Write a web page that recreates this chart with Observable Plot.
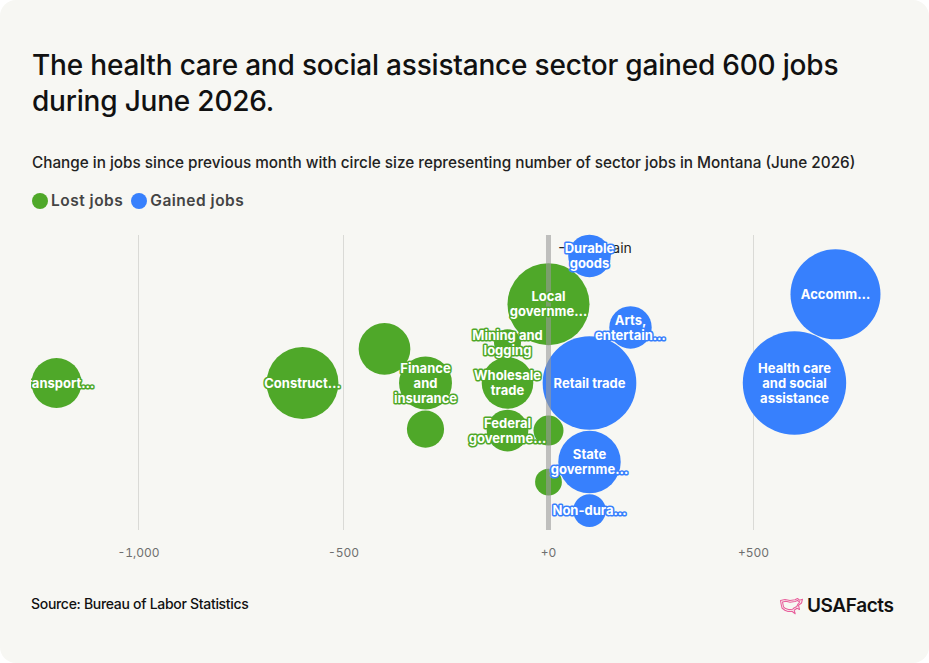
<!DOCTYPE html>
<html>
<head>
<meta charset="utf-8">
<script src="https://cdn.jsdelivr.net/npm/d3@7"></script>
<script src="https://cdn.jsdelivr.net/npm/@observablehq/plot@0.6"></script>
<style>
  html, body { margin: 0; padding: 0; background: #ffffff; }
  #card { position: relative; width: 929px; height: 663px; background: #f7f7f3; border-radius: 16px; overflow: hidden; font-family: Inter, "Noto Sans", sans-serif; }
  #title { position: absolute; left: 32px; top: 47px; width: 835px; font-size: 28px; line-height: 36px; font-weight: 500; color: #111; letter-spacing: -0.2px; margin: 0; }
  #subtitle { position: absolute; left: 32px; top: 154px; font-size: 15.3px; line-height: 18px; font-weight: 500; color: #222; white-space: nowrap; }
  #legend { position: absolute; left: 32px; top: 192px; display: flex; align-items: center; font-size: 15.5px; line-height: 18px; font-weight: 600; color: #444; letter-spacing: 0.5px; }
  #legend .item { display: flex; align-items: center; margin-right: 8px; }
  #legend .sw { width: 16px; height: 16px; border-radius: 50%; margin-right: 3px; }
  #chart { position: absolute; left: 31px; top: 230px; }
  #source { position: absolute; left: 31px; top: 596px; font-size: 14px; line-height: 16px; font-weight: 500; color: #111; letter-spacing: -0.3px; }
  #logo { position: absolute; left: 779px; top: 594px; display: flex; align-items: center; }
  #logo span { font-size: 19px; font-weight: 600; color: #111; letter-spacing: -0.4px; margin-left: 3px; }
</style>
</head>
<body>
<div id="card">
  <h1 id="title">The health care and social assistance sector gained 600 jobs during June 2026.</h1>
  <div id="subtitle">Change in jobs since previous month with circle size representing number of sector jobs in Montana (June 2026)</div>
  <div id="legend"></div>
  <div id="chart"></div>
  <div id="source">Source: Bureau of Labor Statistics</div>
  <div id="logo">
    <svg width="25" height="18" viewBox="0 0 25 18">
      <path d="M1.5 3.5 L6 2.5 L11 3.5 L16 2.8 L18.5 1.5 L20.5 3.2 L23.5 2.2 L22.5 6 L19.5 8.2 L20.5 12.5 L18 11.2 L15.2 13.2 L16.2 16.8 L13 14.2 L9 14.5 L5.8 13.2 L3 11 L2.2 7.5 Z" fill="none" stroke="#e8609c" stroke-width="1.1" stroke-linejoin="round"/>
      <path d="M3.5 5 L7 4.3 L11 5.2 L16 4.5 L18.5 3.5 L20.8 5 L19 7 L17.8 9.5 L15 11 L13.5 12.3 L9.5 12.6 L6.5 11.6 L4.5 9.8 Z" fill="none" stroke="#e8609c" stroke-width="1.1" stroke-linejoin="round"/>
    </svg>
    <span>USAFacts</span>
  </div>
</div>
<script>
// ---- Data ----
const sectors = [
  "Transportation and utilities",
  "Construction",
  "Professional, scientific, and technical services",
  "Finance and insurance",
  "Other services",
  "Mining and logging",
  "Wholesale trade",
  "Federal government",
  "Local government",
  "Information",
  "Educational services",
  "Durable goods",
  "Retail trade",
  "State government",
  "Non-durable goods",
  "Arts, entertainment, and recreation",
  "Health care and social assistance",
  "Accommodation and food services"
];
const labels = [
  "Transport…",
  "Construct…",
  "",
  "Finance\nand\ninsurance",
  "",
  "Mining and\nlogging",
  "Wholesale\ntrade",
  "Federal\ngovernme…",
  "Local\ngovernme…",
  "",
  "",
  "Durable\ngoods",
  "Retail trade",
  "State\ngovernme…",
  "Non-dura…",
  "Arts,\nentertain…",
  "Health care\nand social\nassistance",
  "Accomm…"
];
const jobChange = [-1200, -600, -400, -300, -300, -100, -100, -100, 0, 0, 0, 100, 100, 100, 100, 200, 600, 700];
const sectorJobs = [19200, 39600, 20500, 21500, 10600, 5600, 20400, 13300, 51600, 6900, 5500, 13900, 67300, 29900, 8200, 13800, 82000, 62100];

const statusNames = ["Lost jobs", "Gained jobs"];
const statusColors = ["#4fa829", "#3780fd"];
const tickValues = [-1000, -500, 0, 500];
const gridValues = [-1000, -500, 500];
const annotations = [{value: 0, text: "→ Job gain"}];

// ---- Build rows ----
const rows = sectors.map((s, i) => ({
  sector: s,
  label: labels[i],
  change: jobChange[i],
  jobs: sectorJobs[i],
  status: jobChange[i] > 0 ? statusNames[1] : statusNames[0]
}));

// ---- Legend ----
const legend = document.getElementById("legend");
statusNames.forEach((n, i) => {
  const item = document.createElement("div");
  item.className = "item";
  const sw = document.createElement("div");
  sw.className = "sw";
  sw.style.background = statusColors[i];
  const t = document.createElement("span");
  t.textContent = n;
  item.appendChild(sw); item.appendChild(t);
  legend.appendChild(item);
});

const fmtTick = d => {
  const s = d3.format(",")(Math.abs(d));
  return d > 0 ? "+" + s : d === 0 ? "+0" : "-" + s;
};

const chart = Plot.plot({
  width: 870,
  height: 340,
  marginTop: 5,
  marginBottom: 40,
  marginLeft: 0,
  marginRight: 0,
  style: {background: "transparent", overflow: "hidden", fontFamily: "Inter, sans-serif", color: "#6f6f6f"},
  x: {domain: [-1261, 861]},
  r: {type: "sqrt", domain: [0, 82000], range: [0, 51.7]},
  color: {domain: statusNames, range: statusColors},
  marks: [
    Plot.ruleX(gridValues, {stroke: "#dadad6", strokeWidth: 1}),
    Plot.axisX({ticks: tickValues, tickFormat: fmtTick, tickSize: 0, tickPadding: 18, fontSize: 12, fill: "#6f6f6f", label: null}),
    Plot.text(annotations, {x: "value", text: "text", frameAnchor: "top", textAnchor: "start", lineAnchor: "middle", dx: 9, dy: 13, fontSize: 14, fill: "#222"}),
    Plot.dot(rows, Plot.dodgeY({anchor: "middle", padding: 1}, {x: "change", r: "jobs", fill: "status"})),
    Plot.ruleX([0], {stroke: "#999", strokeOpacity: 0.6, strokeWidth: 5}),
    Plot.text(rows, Plot.dodgeY({anchor: "middle", padding: 1}, {
      x: "change", r: "jobs", text: "label",
      fill: "white", stroke: "status", strokeWidth: 3, paintOrder: "stroke",
      fontWeight: 700, fontSize: 13, lineHeight: 1.15
    }))
  ]
});
document.getElementById("chart").appendChild(chart);
</script>
</body>
</html>
